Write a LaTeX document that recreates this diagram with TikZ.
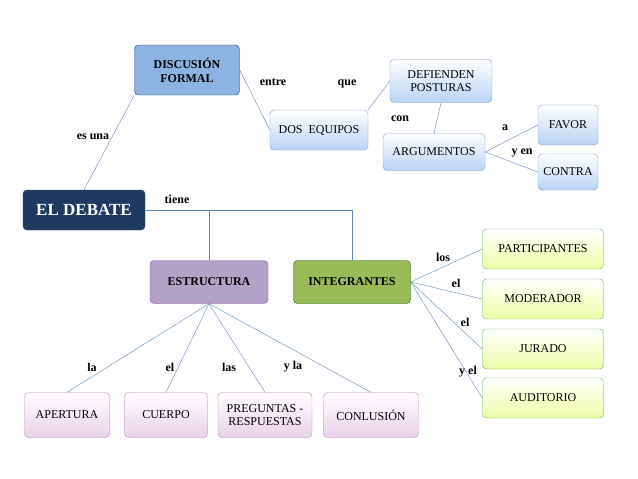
\documentclass[tikz,border=0pt]{standalone}
\usepackage{fontspec}
\setmainfont{Liberation Serif}
\usetikzlibrary{positioning}
\definecolor{linec}{HTML}{5B86BE}
\definecolor{navy}{HTML}{1F3A60}
\definecolor{dfblue}{HTML}{8DB3E2}
\definecolor{esviolet}{HTML}{B2A2C7}
\definecolor{ingreen}{HTML}{9BBB59}
\definecolor{lblue}{HTML}{B9D3F5}
\tikzset{
    box/.style={draw=linec!80!white,rounded corners=4pt,align=center,font=\fontsize{12}{13}\selectfont,inner sep=2pt},
    light/.style={box,top color=white,bottom color=lblue},
    lgreen/.style={box,draw=green!50!black!60,top color=white,bottom color=green!20!yellow!35},
    lviolet/.style={box,draw=violet!50,top color=white,bottom color=violet!18},
    lbl/.style={font=\fontsize{12}{13}\selectfont\bfseries,inner sep=1pt},
    conn/.style={draw=linec,thin}
}
\begin{document}
    \begin{tikzpicture}[x=1pt,y=-1pt]
        \useasboundingbox (0,0) rectangle (638,479);
        \node[box,fill=dfblue,draw=navy,minimum width=105pt,minimum height=50pt,font=\fontsize{12}{14}\selectfont\bfseries] (DF) at (187,70) {DISCUSIÓN\\FORMAL};
        \node[box,fill=navy,draw=navy,text=white,minimum width=122pt,minimum height=40pt,font=\fontsize{17}{18}\selectfont\bfseries] (ED) at (84,210) {EL DEBATE};
        \node[light,minimum width=98pt,minimum height=40pt] (DE) at (319,130) {DOS\ \ EQUIPOS};
        \node[light,minimum width=102pt,minimum height=43pt] (DP) at (441,81) {DEFIENDEN\\POSTURAS};
        \node[light,minimum width=102pt,minimum height=37pt] (AR) at (434,152) {ARGUMENTOS};
        \node[light,minimum width=60pt,minimum height=40pt] (FA) at (568,125) {FAVOR};
        \node[light,minimum width=60pt,minimum height=36pt] (CO) at (568,172) {CONTRA};
        \node[box,fill=esviolet,draw=violet!70,minimum width=118pt,minimum height=43pt,font=\fontsize{12}{13}\selectfont\bfseries] (ES) at (209,282) {ESTRUCTURA};
        \node[box,fill=ingreen,draw=green!40!black,minimum width=117pt,minimum height=43pt,font=\fontsize{12}{13}\selectfont\bfseries] (IN) at (352,282) {INTEGRANTES};
        \begin{scope}[every node/.style={lgreen,minimum width=121pt,minimum height=40pt}]
            \node (PA) at (543,249) {PARTICIPANTES};
            \node (MO) at (543,299) {MODERADOR};
            \node (JU) at (543,349) {JURADO};
            \node (AU) at (543,398) {AUDITORIO};
        \end{scope}
        \begin{scope}[every node/.style={lviolet,minimum height=45pt}]
            \node[minimum width=85pt] (AP) at (67,415) {APERTURA};
            \node[minimum width=83pt] (CU) at (166,415) {CUERPO};
            \node[minimum width=94pt] (PR) at (265,415) {PREGUNTAS -\\RESPUESTAS};
            \node[minimum width=95pt] (CL) at (371,415) {CONLUSIÓN};
        \end{scope}
        \coordinate (T1) at (209,210);
        \coordinate (T2) at (352,210);
        \draw[conn] (ED.north) -- (DF.south west);
        \draw[conn] (DF.east) -- (DE.west);
        \draw[conn] (DE.north east) -- (DP.west);
        \draw[conn] (DP.south) -- (AR.north);
        \draw[conn] (AR.east) -- (FA.west);
        \draw[conn] (AR.east) -- (CO.west);
        \draw[conn] (ED.east) -- (T2) -- (IN.north);
        \draw[conn] (T1) -- (ES.north);
        \draw[conn] (ES.south) -- (AP.north);
        \draw[conn] (ES.south) -- (CU.north);
        \draw[conn] (ES.south) -- (PR.north);
        \draw[conn] (ES.south) -- (CL.north);
        \draw[conn] (IN.east) -- (PA.west);
        \draw[conn] (IN.east) -- (MO.west);
        \draw[conn] (IN.east) -- (JU.west);
        \draw[conn] (IN.east) -- (AU.west);
        \begin{scope}[every node/.style={lbl}]
            \node (L1) at (93,137) {es una};
            \node (L2) at (273,82) {entre};
            \node (L3) at (347,84) {que};
            \node (L4) at (400,119) {con};
            \node (L5) at (505,128) {a};
            \node (L6) at (522,153) {y en};
            \node (L7) at (177,199) {tiene};
            \node (L8) at (92,367) {la};
            \node (L9) at (170,367) {el};
            \node (L10) at (229,367) {las};
            \node (L11) at (293,367) {y la};
            \node (L12) at (443,257) {los};
            \node (L13) at (456,283) {el};
            \node (L14) at (465,322) {el};
            \node (L15) at (468,372) {y el};
        \end{scope}
    \end{tikzpicture}
\end{document}
